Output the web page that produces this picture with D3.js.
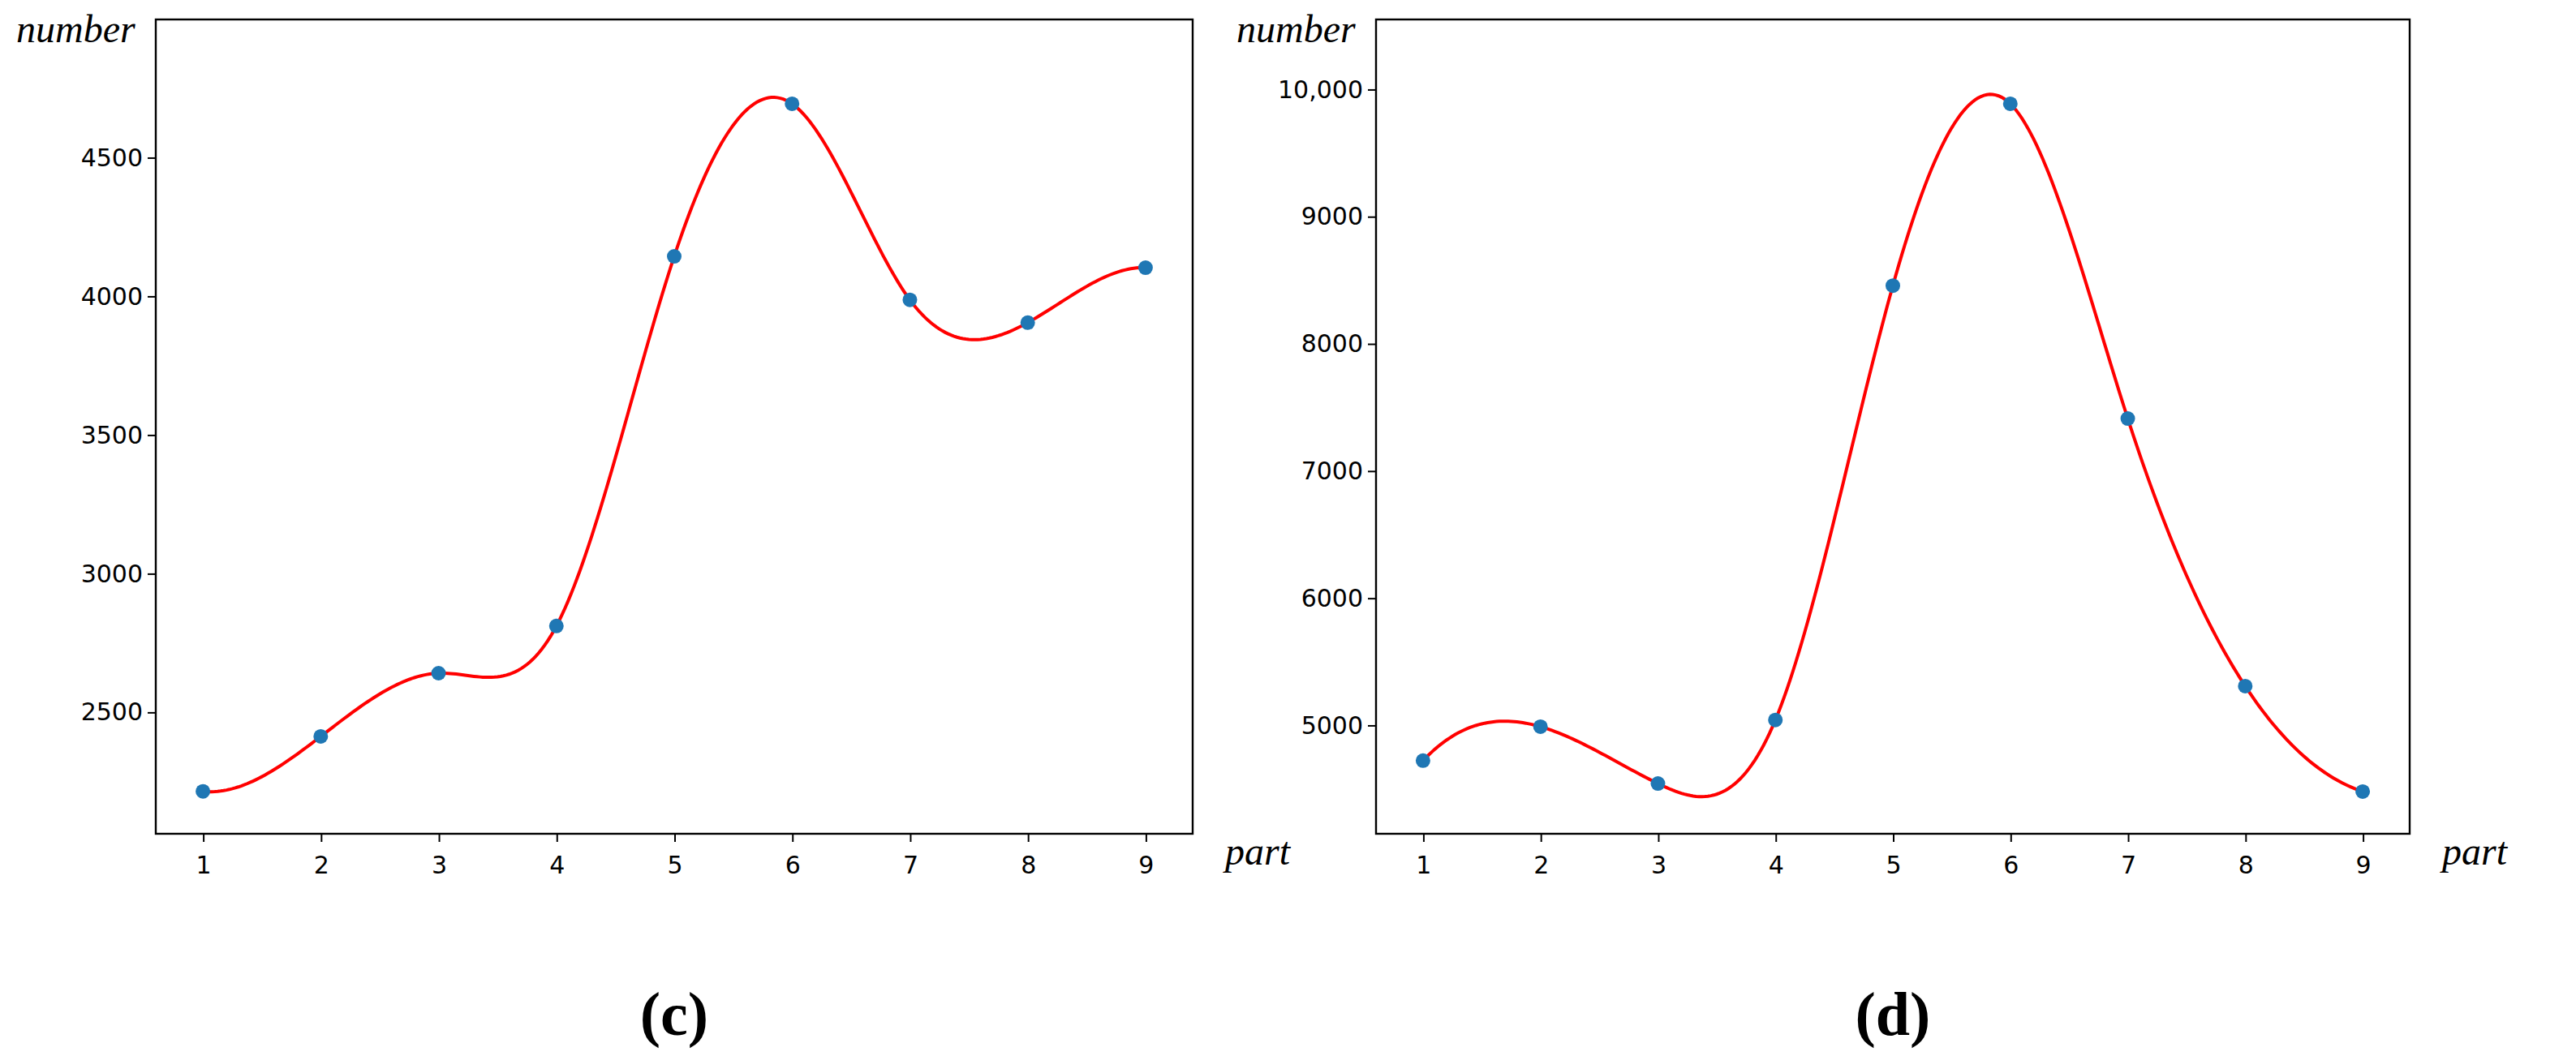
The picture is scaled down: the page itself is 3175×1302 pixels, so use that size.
<!DOCTYPE html>
<html><head><meta charset="utf-8">
<script src="https://cdn.jsdelivr.net/npm/d3@7"></script>
<style>body{margin:0;background:#fff}</style></head>
<body><svg id="c" width="3175" height="1302" viewBox="0 0 1587.5 651"></svg>
<script>
const parts = [1,2,3,4,5,6,7,8,9];
const valuesC = [2214,2412,2640,2810,4143,4693,3986,3904,4102];
const valuesD = [4720,4987,4540,5040,8455,9885,7410,5306,4477];
const ticksC = [2500,3000,3500,4000,4500];
const ticksD = [5000,6000,7000,8000,9000,10000];
const svg = d3.select("#c");
// not-a-knot cubic spline (unit spacing)
function spline(ys){
  const n=ys.length, A=[], b=[];
  for(let i=0;i<n;i++){A.push(new Array(n).fill(0));b.push(0);}
  A[0][0]=1;A[0][1]=-2;A[0][2]=1;
  A[n-1][n-3]=1;A[n-1][n-2]=-2;A[n-1][n-1]=1;
  for(let i=1;i<n-1;i++){A[i][i-1]=1;A[i][i]=4;A[i][i+1]=1;b[i]=6*(ys[i-1]-2*ys[i]+ys[i+1]);}
  for(let c=0;c<n;c++){let p=c;for(let r=c+1;r<n;r++)if(Math.abs(A[r][c])>Math.abs(A[p][c]))p=r;
    [A[c],A[p]]=[A[p],A[c]];[b[c],b[p]]=[b[p],b[c]];
    for(let r=0;r<n;r++){if(r===c)continue;const f=A[r][c]/A[c][c];if(!f)continue;for(let k=c;k<n;k++)A[r][k]-=f*A[c][k];b[r]-=f*b[c];}}
  const M=b.map((v,i)=>v/A[i][i]);
  const out=[];
  for(let i=0;i<n-1;i++)for(let s=0;s<40;s++){const t=s/40;
    out.push([i+t,M[i]*(1-t)**3/6+M[i+1]*t**3/6+(ys[i]-M[i]/6)*(1-t)+(ys[i+1]-M[i+1]/6)*t]);}
  out.push([n-1,ys[n-1]]);return out;
}
function panel(x0,x1,vals,yd,ticks,fmt,label){
  const top=12,bot=514;
  const x=d3.scaleLinear().domain([0.6,9.4]).range([x0,x1]);
  const y=d3.scaleLinear().domain(yd).range([bot,top]);
  const g=svg.append("g");
  const ax=g.append("g").attr("transform",`translate(0,${bot})`).call(d3.axisBottom(x).tickValues(parts).tickSize(5).tickFormat(d3.format("d")));
  const ay=g.append("g").attr("transform",`translate(${x0},0)`).call(d3.axisLeft(y).tickValues(ticks).tickSize(5).tickFormat(fmt));
  [ax,ay].forEach(a=>{a.select(".domain").remove();a.selectAll("text").attr("font-family","DejaVu Sans").attr("font-size",15).attr("fill","#000");});
  ax.selectAll("text").attr("dy","1.1em");
  g.append("rect").attr("x",x0).attr("y",top).attr("width",x1-x0).attr("height",bot-top).attr("fill","none").attr("stroke","#000").attr("stroke-width",1.2);
  const curve=spline(vals).map(d=>[x(d[0]+1),y(d[1])]);
  g.append("path").attr("d",d3.line()(curve)).attr("fill","none").attr("stroke","#ff0000").attr("stroke-width",2);
  const pts=parts.map((p,i)=>[x(p),y(vals[i])]);
  g.selectAll("circle").data(pts).join("circle").attr("cx",d=>d[0]).attr("cy",d=>d[1]).attr("r",4.5).attr("fill","#1f77b4");
  g.append("text").attr("x",x0-86).attr("y",26).text("number").attr("font-family","Liberation Serif").attr("font-style","italic").attr("font-size",24);
  g.append("text").attr("x",x1+20).attr("y",533).text("part").attr("font-family","Liberation Serif").attr("font-style","italic").attr("font-size",24);
  g.append("text").attr("x",(x0+x1)/2).attr("y",652-14).attr("text-anchor","middle").text(label).attr("font-family","Liberation Serif").attr("font-weight","bold").attr("font-size",38);
}
panel(96,735,valuesC,[2061,4997],ticksC,d3.format("d"),"(c)");
panel(848,1485,valuesD,[4145,10548],ticksD,d=>d>=10000?d3.format(",")(d):String(d),"(d)");
</script></body></html>
